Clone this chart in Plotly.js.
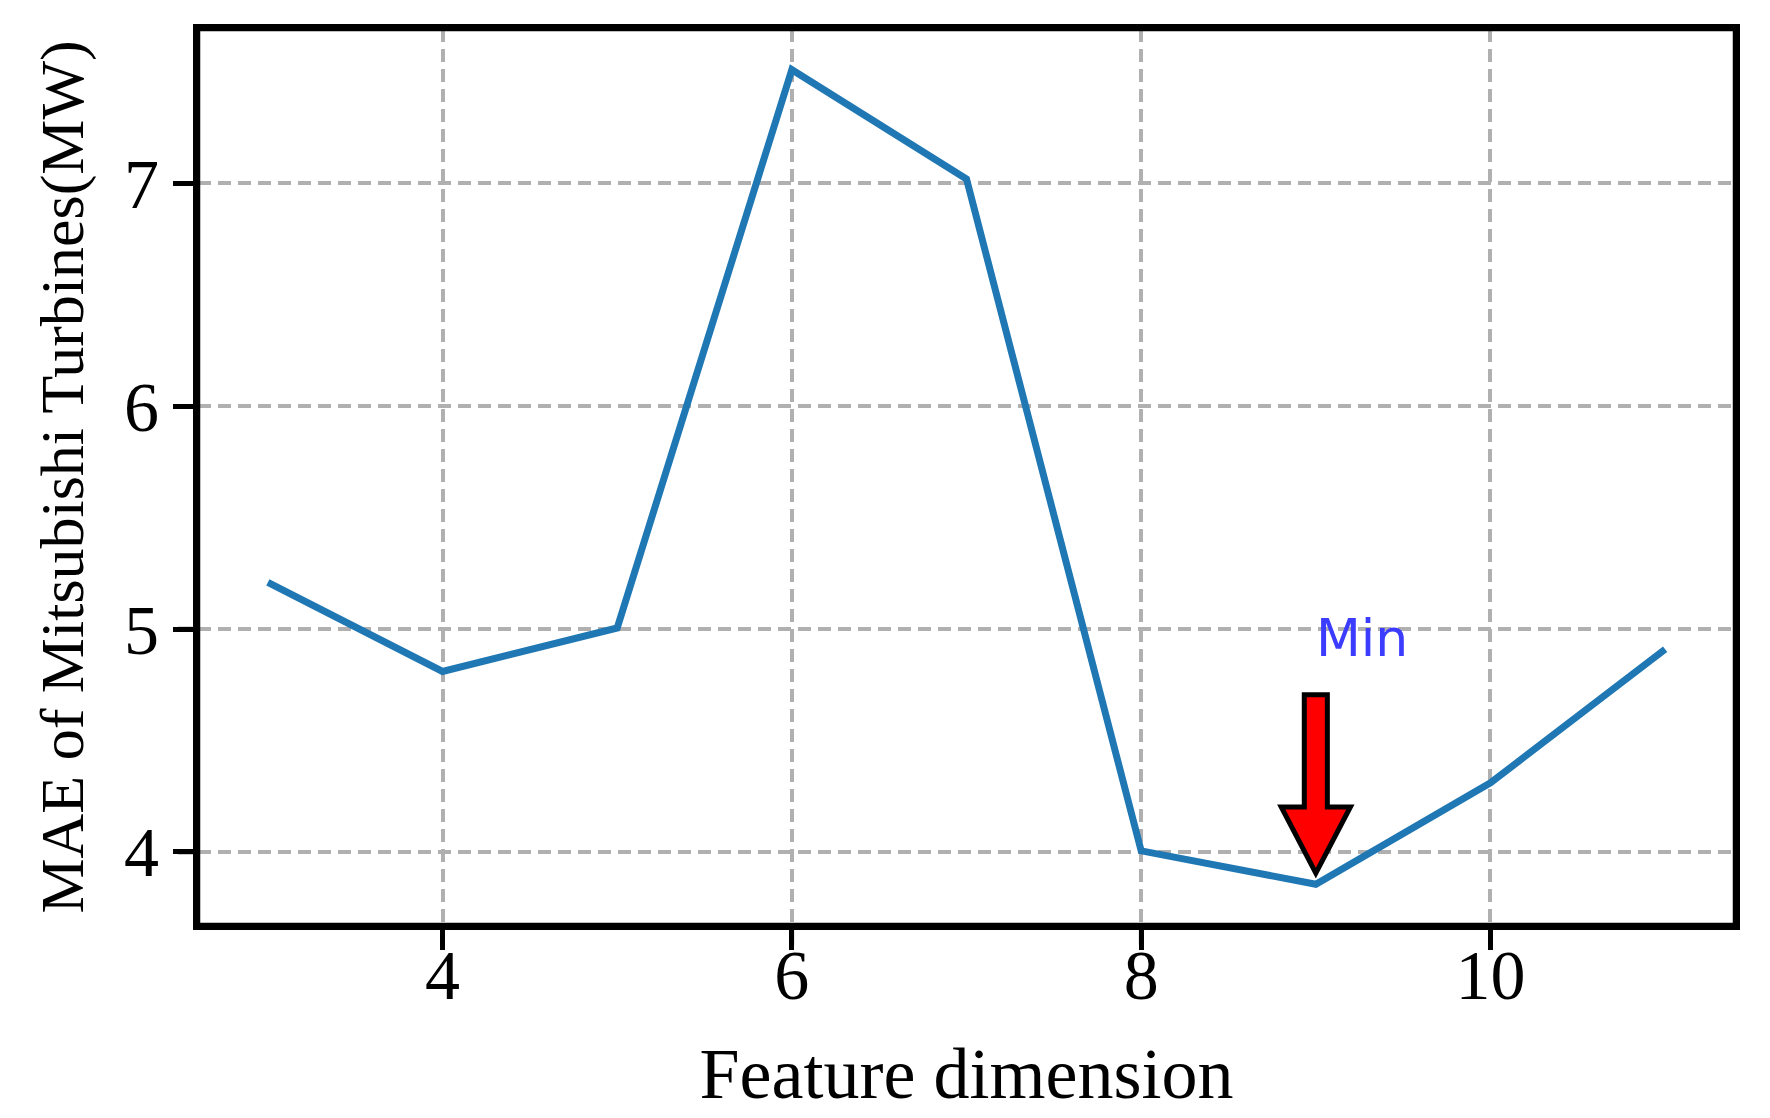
<!DOCTYPE html>
<html>
<head>
<meta charset="utf-8">
<script src="https://cdn.plot.ly/plotly-3.0.1.min.js"></script>
<style>html,body{margin:0;padding:0;background:#fff;}#wrap{position:relative;width:1770px;height:1118px;}#chart{width:1770px;height:1118px;}#overlay{position:absolute;left:0;top:0;pointer-events:none;}</style>
</head>
<body>
<div id="wrap"><div id="chart"></div></div>
<script>
// Data
const featureDims = [3, 4, 5, 6, 7, 8, 9, 10, 11];
const maeValues = [5.21, 4.81, 5.005, 7.51, 7.02, 4.005, 3.855, 4.31, 4.91];
const xTickVals = [4, 6, 8, 10];
const yTickVals = [4, 5, 6, 7];
const minLabel = "Min";
const minTextY = 4.85;   // y of the "Min" label (data units)
const xTitle = "Feature dimension";
const yTitle = "MAE of Mitsubishi Turbines(MW)";

// locate the minimum from the data
let iMin = 0;
for (let i = 1; i < maeValues.length; i++) if (maeValues[i] < maeValues[iMin]) iMin = i;
const mx = featureDims[iMin], my = maeValues[iMin];

// fancy block arrow (matplotlib-like, shrink 5% each end)
const span = minTextY - my;
const tipY = my + 0.05 * span;
const topY = minTextY - 0.145;
const shaftHalf = 0.066, headHalf = 0.198, headLen = 0.297;
const headTopY = tipY + headLen;
const arrowPath = `M ${mx - shaftHalf} ${topY} L ${mx + shaftHalf} ${topY} L ${mx + shaftHalf} ${headTopY} L ${mx + headHalf} ${headTopY} L ${mx} ${tipY} L ${mx - headHalf} ${headTopY} L ${mx - shaftHalf} ${headTopY} Z`;

const xmin = Math.min(...featureDims), xmax = Math.max(...featureDims);
const ymin = Math.min(...maeValues), ymax = Math.max(...maeValues);
const xpad = 0.05 * (xmax - xmin), ypad = 0.05 * (ymax - ymin);
const xRange = [xmin - xpad, xmax + xpad];
const yRange = [ymin - ypad, ymax + ypad];

const W = 1770, H = 1118, M = {l: 198, r: 35, t: 29, b: 193};
const TICKLEN = 20;

const trace = {
  x: featureDims, y: maeValues, type: 'scatter', mode: 'lines',
  line: {color: '#1f77b4', width: 7}, hoverinfo: 'skip', showlegend: false
};

const serif = '"Liberation Serif", "Times New Roman", serif';
const tickFont = {family: serif, size: 70, color: '#000'};

const layout = {
  width: W, height: H,
  margin: M,
  paper_bgcolor: '#fff', plot_bgcolor: '#fff',
  xaxis: {
    range: xRange, tickmode: 'array', tickvals: xTickVals, ticktext: xTickVals.map(String),
    ticks: 'outside', ticklen: TICKLEN, tickwidth: 5, tickcolor: '#000',
    showline: true, linecolor: '#000', linewidth: 5, mirror: true, zeroline: false,
    showgrid: true, gridcolor: '#b0b0b0', gridwidth: 4, griddash: '13px,7px',
    tickfont: tickFont, ticklabelstandoff: -35,
    title: {text: xTitle, font: {family: serif, size: 72, color: '#000'}, standoff: 36}
  },
  yaxis: {
    range: yRange, tickmode: 'array', tickvals: yTickVals, ticktext: yTickVals.map(String),
    ticks: 'outside', ticklen: TICKLEN, tickwidth: 5, tickcolor: '#000',
    showline: true, linecolor: '#000', linewidth: 5, mirror: true, zeroline: false,
    showgrid: true, gridcolor: '#b0b0b0', gridwidth: 4, griddash: '13px,7px',
    tickfont: tickFont,
    title: {text: yTitle, font: {family: serif, size: 62, color: '#000'}, standoff: 22}
  },
  shapes: [{
    type: 'path', xref: 'x', yref: 'y', path: arrowPath,
    fillcolor: '#ff0000', line: {color: '#000', width: 5}, layer: 'above'
  }],
  annotations: [{
    x: mx, y: minTextY, xref: 'x', yref: 'y', text: minLabel, showarrow: false,
    xanchor: 'left', yanchor: 'bottom', xshift: -2, yshift: -7,
    font: {family: '"DejaVu Sans", sans-serif', size: 52, color: '#3c3cff'}
  }]
};

const gd = document.getElementById('chart');
Plotly.newPlot(gd, [trace], layout, {displayModeBar: false, staticPlot: true}).then(() => {
  // Frame and tick marks overlaid, positioned through Plotly's own axis scales
  const fl = gd._fullLayout, sz = fl._size, xa = fl.xaxis, ya = fl.yaxis;
  const toPx = (ax, v) => (typeof ax.d2p === 'function' ? ax.d2p(v) : ax.l2p(v));
  const NS = 'http://www.w3.org/2000/svg';
  const svg = document.createElementNS(NS, 'svg');
  svg.setAttribute('id', 'overlay');
  svg.setAttribute('width', W);
  svg.setAttribute('height', H);
  const line = (x1, y1, x2, y2) => {
    const l = document.createElementNS(NS, 'line');
    l.setAttribute('x1', x1); l.setAttribute('y1', y1);
    l.setAttribute('x2', x2); l.setAttribute('y2', y2);
    l.setAttribute('stroke', '#000'); l.setAttribute('stroke-width', 4.5);
    l.setAttribute('stroke-linecap', 'butt');
    svg.appendChild(l);
  };
  const left = sz.l, top = sz.t, right = sz.l + sz.w, bottom = sz.t + sz.h;
  const frame = document.createElementNS(NS, 'rect');
  frame.setAttribute('x', left); frame.setAttribute('y', top);
  frame.setAttribute('width', sz.w); frame.setAttribute('height', sz.h);
  frame.setAttribute('fill', 'none'); frame.setAttribute('stroke', '#000');
  frame.setAttribute('stroke-width', 4.5);
  svg.appendChild(frame);
  xTickVals.forEach(v => { const px = left + toPx(xa, v); line(px, bottom, px, bottom + TICKLEN); });
  yTickVals.forEach(v => { const py = top + toPx(ya, v); line(left, py, left - TICKLEN, py); });
  document.getElementById('wrap').appendChild(svg);
});
</script>
</body>
</html>
